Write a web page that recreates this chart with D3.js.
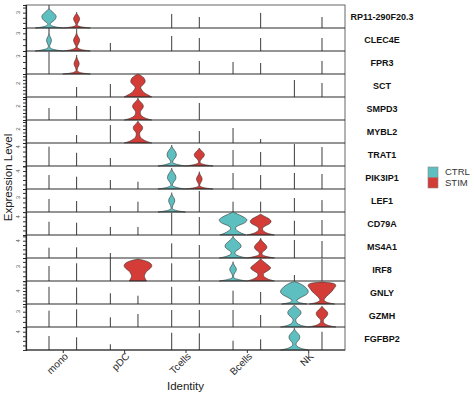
<!DOCTYPE html>
<html><head><meta charset="utf-8">
<script src="https://cdn.jsdelivr.net/npm/d3@7"></script>
<style>body{margin:0;background:#fff}svg{display:block}text{font-family:"Liberation Sans",Arial,sans-serif}</style>
</head><body><svg id="chart" width="474" height="398"></svg>
<script>
const genes=["RP11-290F20.3","CLEC4E","FPR3","SCT","SMPD3","MYBL2","TRAT1","PIK3IP1","LEF1","CD79A","MS4A1","IRF8","GNLY","GZMH","FGFBP2"];
const identities=["mono","pDC","Tcells","Bcells","NK"];
const conditions=["CTRL","STIM"];
const yMax=[4.5,3.9,3.83,3.36,3.29,3.29,4.77,5.11,4.82,5.03,5.32,4.82,7.08,4.51,5.03];
const tickLabel=[3,3,3,2,2,2,4,4,3,4,4,3,4,3,4];
// max expression per gene: [monoC, monoS, pDCC, pDCS, TcellsC, TcellsS, BcellsC, BcellsS, NKC, NKS]
const violinMax=[
 [4.5,3.1,0,0,2.75,2.15,0,2.95,0,2.15],
 [3.9,3.73,1.36,0,2.54,2.2,0,2.2,0,2.2],
 [3.67,3.17,0,0,0,2.17,2.0,1.83,0,2.17],
 [0,1.46,1.9,3.36,0,0,0,0,2.48,2.04],
 [1.71,2.0,2.0,3.14,0,2.43,0,0,0,0],
 [0,1.14,2.57,3.14,0,1.71,2.14,0.57,0,0],
 [4.0,2.75,1.66,0,4.35,3.73,3.31,2.9,4.55,3.93],
 [3.1,2.73,2.0,1.62,4.67,3.84,3.56,3.1,3.56,3.33],
 [2.73,2.3,1.26,2.16,4.05,4.4,2.16,2.16,2.93,2.5],
 [2.9,2.69,1.75,1.75,4.8,3.93,5.03,4.59,3.13,3.28],
 [2.38,2.47,1.15,0,3.39,3.0,5.08,4.62,4.16,3.93],
 [3.14,3.71,4.82,4.6,3.71,4.4,4.05,4.7,1.26,4.6],
 [5.3,5.1,3.3,2.55,5.3,5.5,4.1,3.7,6.9,6.75],
 [3.2,3.47,1.9,2.55,3.33,3.33,3.33,2.35,4.3,4.1],
 [3.06,2.78,1.25,0,3.78,3.65,2.03,2.34,4.8,4.0]
];
// relative violin widths at 13 evenly spaced levels from 0 to the violin max
const violinDensity=[
 {gene:"RP11-290F20.3",identity:"mono",condition:"CTRL",w:[1,0.25,0.08,0.2,0.38,0.48,0.52,0.45,0.32,0.15,0.03,0,0]},
 {gene:"RP11-290F20.3",identity:"mono",condition:"STIM",w:[1,0.3,0.06,0.06,0.1,0.16,0.2,0.22,0.2,0.14,0.08,0.02,0]},
 {gene:"CLEC4E",identity:"mono",condition:"CTRL",w:[1,0.25,0.05,0.06,0.12,0.17,0.17,0.12,0.05,0.01,0,0,0]},
 {gene:"CLEC4E",identity:"mono",condition:"STIM",w:[1,0.25,0.05,0.07,0.14,0.2,0.22,0.18,0.1,0.04,0.01,0,0]},
 {gene:"FPR3",identity:"mono",condition:"STIM",w:[1,0.22,0.05,0.05,0.08,0.14,0.18,0.18,0.14,0.08,0.04,0.01,0]},
 {gene:"SCT",identity:"pDC",condition:"STIM",w:[1,0.75,0.5,0.35,0.25,0.2,0.3,0.45,0.52,0.5,0.42,0.25,0]},
 {gene:"SMPD3",identity:"pDC",condition:"STIM",w:[1,0.55,0.3,0.2,0.17,0.2,0.3,0.38,0.38,0.3,0.18,0.06,0]},
 {gene:"MYBL2",identity:"pDC",condition:"STIM",w:[1,0.6,0.35,0.2,0.14,0.12,0.16,0.28,0.34,0.32,0.22,0.08,0]},
 {gene:"TRAT1",identity:"Tcells",condition:"CTRL",w:[1,0.35,0.08,0.1,0.18,0.28,0.33,0.33,0.28,0.2,0.1,0.03,0]},
 {gene:"TRAT1",identity:"Tcells",condition:"STIM",w:[1,0.35,0.08,0.06,0.1,0.2,0.3,0.36,0.36,0.28,0.18,0.07,0]},
 {gene:"PIK3IP1",identity:"Tcells",condition:"CTRL",w:[1,0.3,0.06,0.08,0.14,0.24,0.3,0.3,0.26,0.18,0.1,0.03,0]},
 {gene:"PIK3IP1",identity:"Tcells",condition:"STIM",w:[1,0.3,0.05,0.04,0.08,0.14,0.19,0.2,0.18,0.12,0.06,0.02,0]},
 {gene:"LEF1",identity:"Tcells",condition:"CTRL",w:[1,0.3,0.05,0.05,0.08,0.14,0.2,0.22,0.2,0.14,0.07,0.02,0]},
 {gene:"CD79A",identity:"Bcells",condition:"CTRL",w:[0.95,0.6,0.35,0.2,0.2,0.4,0.75,0.95,1,0.85,0.6,0.3,0]},
 {gene:"CD79A",identity:"Bcells",condition:"STIM",w:[1,0.5,0.25,0.15,0.15,0.3,0.55,0.72,0.75,0.65,0.45,0.2,0]},
 {gene:"MS4A1",identity:"Bcells",condition:"CTRL",w:[1,0.45,0.18,0.14,0.25,0.45,0.57,0.57,0.48,0.33,0.18,0.06,0]},
 {gene:"MS4A1",identity:"Bcells",condition:"STIM",w:[1,0.4,0.12,0.1,0.2,0.35,0.44,0.44,0.36,0.24,0.12,0.04,0]},
 {gene:"IRF8",identity:"pDC",condition:"STIM",w:[0.63,0.55,0.48,0.47,0.52,0.6,0.75,0.9,1,0.98,0.85,0.55,0]},
 {gene:"IRF8",identity:"Bcells",condition:"CTRL",w:[1,0.35,0.06,0.04,0.06,0.12,0.2,0.24,0.22,0.15,0.08,0.02,0]},
 {gene:"IRF8",identity:"Bcells",condition:"STIM",w:[1,0.55,0.3,0.2,0.22,0.4,0.62,0.72,0.62,0.45,0.28,0.12,0]},
 {gene:"GNLY",identity:"NK",condition:"CTRL",w:[0.92,0.3,0.18,0.35,0.6,0.85,0.98,1,0.92,0.8,0.62,0.38,0]},
 {gene:"GNLY",identity:"NK",condition:"STIM",w:[0.92,0.35,0.15,0.2,0.3,0.45,0.6,0.72,0.82,0.92,1,0.92,0]},
 {gene:"GZMH",identity:"NK",condition:"CTRL",w:[1,0.45,0.2,0.12,0.1,0.18,0.32,0.45,0.48,0.42,0.28,0.12,0]},
 {gene:"GZMH",identity:"NK",condition:"STIM",w:[1,0.42,0.18,0.1,0.1,0.2,0.32,0.4,0.42,0.34,0.22,0.08,0]},
 {gene:"FGFBP2",identity:"NK",condition:"CTRL",w:[1,0.45,0.2,0.12,0.15,0.26,0.36,0.39,0.36,0.26,0.14,0.04,0]}
];

const svg=d3.select("#chart");
const panel={left:26,right:345,top:5,bottom:350};
const row=d3.scaleBand().domain(genes).range([panel.top,panel.bottom]);
const x=d3.scalePoint().domain(identities).range([panel.left,panel.right]).padding(0.6);
const step=x.step();
const dodge=d3.scaleBand().domain(conditions).range([-0.45*step,0.45*step]);
const halfW=d3.scaleLinear().domain([0,1]).range([0,dodge.bandwidth()/2]);
const color=d3.scaleOrdinal().domain(conditions).range(["#5ebfc1","#d33c37"]);
const cx=(id,c)=>x(id)+dodge(c)+dodge.bandwidth()/2;

svg.append("rect").attr("x",panel.left).attr("y",panel.top)
  .attr("width",panel.right-panel.left).attr("height",panel.bottom-panel.top)
  .attr("fill","none").attr("stroke","#666").attr("stroke-width",1);

genes.forEach((g,gi)=>{
  const top=row(g), bot=top+row.bandwidth();
  const y=d3.scaleLinear().domain([0,yMax[gi]]).range([bot,top]);
  const gr=svg.append("g");
  identities.forEach((id,ii)=>conditions.forEach((c,ci)=>{
    const m=violinMax[gi][ii*2+ci];
    if(!m) return;
    const X=cx(id,c);
    const dens=violinDensity.find(d=>d.gene===g&&d.identity===id&&d.condition===c);
    if(dens){
      const n=dens.w.length-1;
      const pts=dens.w.map((w,k)=>({v:m*k/n,w}));
      const area=d3.area().curve(d3.curveCatmullRom.alpha(0.5))
        .y(d=>y(d.v)).x0(d=>X-halfW(d.w)).x1(d=>X+halfW(d.w));
      gr.append("path").attr("d",area(pts)).attr("fill",color(c))
        .attr("stroke","#333").attr("stroke-width",0.6);
    } else {
      gr.append("line").attr("x1",X).attr("x2",X).attr("y1",y(0)).attr("y2",y(m))
        .attr("stroke","#3c3c3c").attr("stroke-width",1);
    }
  }));
  gr.append("line").attr("x1",panel.left).attr("x2",panel.right).attr("y1",bot).attr("y2",bot)
    .attr("stroke","#2a2a2a").attr("stroke-width",1.2);
  const tstep=(row.bandwidth()/yMax[gi])>=6.5?0.5:1;
  const ticks=d3.range(0,yMax[gi]+1e-9,tstep);
  const ax=svg.append("g").attr("transform",`translate(${panel.left},0)`)
    .call(d3.axisLeft(y).tickValues(ticks).tickSize(3).tickFormat(""));
  ax.select(".domain").attr("stroke","#222").attr("stroke-width",1.2);
  ax.selectAll(".tick line").attr("stroke","#333");
  svg.append("text").attr("transform",`translate(20,${y(tickLabel[gi])}) rotate(-90)`)
    .attr("text-anchor","middle").attr("font-size",6).attr("fill","#555").text(tickLabel[gi]);
  svg.append("text").attr("x",382).attr("y",top+row.bandwidth()/2).attr("dy","0.35em")
    .attr("text-anchor","middle").attr("font-size",9).attr("font-weight","bold").attr("fill","#111").text(g);
});

const xa=svg.append("g").attr("transform",`translate(0,${panel.bottom})`)
  .call(d3.axisBottom(x).tickSize(3).tickFormat(""));
xa.select(".domain").remove();
xa.selectAll(".tick line").attr("stroke","#333");
identities.forEach(id=>{
  svg.append("text").attr("transform",`translate(${x(id)+6},${panel.bottom+7}) rotate(-45)`)
    .attr("text-anchor","end").attr("font-size",10).attr("fill","#2a2a2a").text(id);
});
svg.append("text").attr("x",(panel.left+panel.right)/2).attr("y",390).attr("text-anchor","middle")
  .attr("font-size",11.5).attr("fill","#222").text("Identity");
svg.append("text").attr("transform",`translate(12,${(panel.top+panel.bottom)/2}) rotate(-90)`)
  .attr("text-anchor","middle").attr("font-size",11.5).attr("fill","#222").text("Expression Level");

conditions.forEach((c,i)=>{
  svg.append("rect").attr("x",428).attr("y",167+i*10.5).attr("width",10).attr("height",10.5)
    .attr("fill",color(c)).attr("stroke","#888").attr("stroke-width",0.6);
  svg.append("text").attr("x",445).attr("y",172+i*10.5).attr("dy","0.35em")
    .attr("font-size",9.5).attr("fill","#333").text(c);
});
</script></body></html>
